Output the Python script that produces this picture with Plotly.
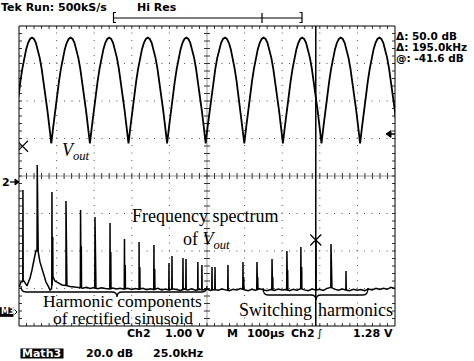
import numpy as np
import plotly.graph_objects as go

# ---------------- data ----------------
# Ch2: Vout, 1.00 V/div, 100 us/div -> cusp times (us) of the rectified sinusoid
trough_times_us = [-16.8, 85.9, 188.6, 291.2, 393.9, 496.5, 599.2, 701.9, 804.5, 907.2, 1009.9]
trough_v = 1.03
peak_v = 3.85
arch_profile = [0.0, 0.156, 0.309, 0.454, 0.588, 0.707, 0.809, 0.891, 0.951, 0.988, 1.0,
                0.988, 0.951, 0.891, 0.809, 0.707, 0.588, 0.454, 0.309, 0.156, 0.0]
trigger_v = 1.28

# Math3: FFT of Vout, 20 dB/div, 25 kHz/div
floor_khz = [-2.3, -1.0, 1.0, 2.0, 3.0, 3.7, 5.0, 6.3, 7.6, 8.3, 9.0, 10.3, 11.6, 13.0, 14.3,
             15.6, 17.0, 18.3, 19.3, 20.3, 21.6, 23.6, 26.3, 28.9, 31.6, 34.9,
             37.5, 40.0, 42.5, 45.0, 47.5, 50.0, 52.5, 55.0, 57.5, 60.0, 62.5, 65.0, 67.5, 70.0,
             72.5, 75.0, 77.5, 80.0, 82.5, 85.0, 87.5, 90.0, 92.5, 95.0, 97.5, 100.0, 102.5,
             105.0, 107.5, 110.0, 112.5, 115.0, 117.5, 120.0, 122.5, 125.0, 127.5, 130.0, 132.5,
             135.0, 137.5, 140.0, 142.5, 145.0, 147.5, 150.0, 152.5, 155.0, 157.5, 160.0, 162.5,
             165.0, 167.5, 170.0, 172.5, 175.0, 177.5, 180.0, 182.5, 185.0, 187.5, 190.0, 192.5,
             195.0, 197.5, 200.0, 202.5, 205.0, 207.5, 210.0, 212.5, 215.0, 217.5, 220.0, 222.5,
             225.0, 227.5, 230.0, 232.5, 235.0, 237.5, 240.0, 242.5, 245.0, 247.5]
floor_db = [-66.7, -64.0, -63.5, -65.0, -66.1, -64.5, -61.9, -57.6, -53.3, -49.6, -46.9, -48.0,
            -53.3, -57.6, -61.3, -64.0, -66.1, -68.3, -67.7, -61.3, -63.5, -64.5, -65.6, -65.9,
            -66.4, -66.7,
            -66.9, -67.3, -66.8, -67.4, -67.0, -67.6, -67.1, -67.5, -67.9, -67.2, -67.7, -67.3,
            -67.8, -67.4, -68.0, -67.5, -67.9, -67.3, -68.1, -67.6, -68.0, -67.4, -68.2, -67.7,
            -68.3, -67.6, -68.0, -68.5, -67.8, -68.2, -67.6, -68.4, -67.9, -68.3, -67.7, -68.5,
            -68.0, -68.4, -67.8, -68.2, -68.6, -67.9, -68.3, -67.5, -68.1, -68.6, -67.9, -68.4,
            -67.6, -68.2, -68.7, -68.0, -68.5, -67.8, -68.3, -68.0, -68.6, -67.9, -68.4, -67.6,
            -68.2, -68.6, -67.8, -68.3, -67.9, -68.5, -67.4, -66.9, -67.8, -68.4, -67.7, -68.3,
            -68.7, -67.9, -68.4, -68.0, -68.6, -67.8, -68.2, -67.4, -68.0, -67.3, -67.9, -66.8,
            -67.4]
line_khz = [0.3, 9.8, 19.6, 28.9, 38.6, 48.2, 58.2, 67.8, 77.5, 87.4, 97.4, 99.4, 106.7, 108.7,
            116.6, 119.3, 126.0, 128.0, 136.6, 146.6, 155.9, 165.9, 175.8, 185.1, 195.1, 205.1, 215.1]
line_db = [-15.0, -1.6, -16.0, -20.8, -25.6, -29.3, -32.5, -41.1, -42.7, -44.3, -53.9, -50.1,
           -51.2, -51.7, -53.3, -54.9, -56.0, -56.0, -54.9, -53.3, -53.3, -51.7, -47.5, -45.3,
           -41.6, -43.7, -58.1]
side_khz = [10.3, 20.1, 29.4, 39.1, 48.7, 58.7, 68.3, 78.0, 87.9, 147.1, 156.4, 166.4, 176.3, 185.6, 205.6]
side_db = [-25.0, -40.0, -44.0, -45.0, -49.0, -48.0, -55.0, -56.0, -57.0, -61.3, -61.3, -61.3,
           -57.6, -56.0, -56.0]

cursor_khz = [0.0, 195.0]
cursor_db = [8.4, -41.6]
math_ref_db = -80.0

# ---------------- traces ----------------
vt, vv = [], []
n = len(arch_profile)
for t0, t1 in zip(trough_times_us[:-1], trough_times_us[1:]):
    for k, p in enumerate(arch_profile[:-1]):
        vt.append(t0 + (t1 - t0) * k / (n - 1))
        vv.append(trough_v + (peak_v - trough_v) * p)
vt.append(trough_times_us[-1])
vv.append(trough_v)

pts = list(zip(floor_khz, floor_db))
for f, d in zip(line_khz + side_khz, line_db + side_db):
    b = float(np.interp(f, floor_khz, floor_db))
    pts += [(f - 0.15, b), (f, d), (f + 0.15, b)]
pts.sort()
sf = [p[0] for p in pts]
sd = [p[1] for p in pts]

fig = go.Figure()
fig.add_trace(go.Scatter(x=vt, y=vv, mode='lines', line=dict(color='black', width=1.8),
                         xaxis='x', yaxis='y', hoverinfo='skip'))
fig.add_trace(go.Scatter(x=sf, y=sd, mode='lines', line=dict(color='black', width=1.5),
                         xaxis='x2', yaxis='y2', hoverinfo='skip'))
fig.add_trace(go.Scatter(x=cursor_khz, y=cursor_db, mode='markers', xaxis='x2', yaxis='y2',
                         marker=dict(symbol='x-thin-open', size=11, color='black',
                                     line=dict(color='black', width=1.2)),
                         hoverinfo='skip'))

# ---------------- graticule & decorations ----------------
L, R, T, B = 19, 395, 26, 326
W, H = R - L, B - T


def px(x):
    return (x - L) / W


def py(y):
    return (B - y) / H


shapes = []
dot = dict(color='#555', width=1, dash='1px,6.5px')
for i in range(1, 10):
    if i == 5:
        continue
    shapes.append(dict(type='line', xref='paper', yref='paper', x0=i / 10, x1=i / 10, y0=0, y1=1, line=dot, layer='below'))
for j in range(1, 8):
    if j == 4:
        continue
    shapes.append(dict(type='line', xref='paper', yref='paper', y0=j / 8, y1=j / 8, x0=0, x1=1, line=dot, layer='below'))
shapes.append(dict(type='line', xref='paper', yref='paper', x0=0.5, x1=0.5, y0=0, y1=1,
                   line=dict(color='#999', width=1), layer='below'))
shapes.append(dict(type='line', xref='paper', yref='paper', y0=0.5, y1=0.5, x0=0, x1=1,
                   line=dict(color='#999', width=1), layer='below'))

tk = 3
segs = []
for k in range(1, 40):
    y = k / 40
    segs.append(f"M{0.5 - tk / W:.5f},{y:.5f} L{0.5 + tk / W:.5f},{y:.5f}")
    segs.append(f"M0,{y:.5f} L{tk / W:.5f},{y:.5f}")
    segs.append(f"M1,{y:.5f} L{1 - tk / W:.5f},{y:.5f}")
for k in range(1, 50):
    x = k / 50
    segs.append(f"M{x:.5f},{0.5 - tk / H:.5f} L{x:.5f},{0.5 + tk / H:.5f}")
    segs.append(f"M{x:.5f},0 L{x:.5f},{tk / H:.5f}")
    segs.append(f"M{x:.5f},1 L{x:.5f},{1 - tk / H:.5f}")
shapes.append(dict(type='path', xref='paper', yref='paper', path=' '.join(segs),
                   line=dict(color='#333', width=1), layer='below'))
shapes.append(dict(type='rect', xref='paper', yref='paper', x0=0, x1=1, y0=0, y1=1,
                   line=dict(color='black', width=1)))

# cursor bar
shapes.append(dict(type='line', xref='x2', yref='paper', x0=cursor_khz[1], x1=cursor_khz[1], y0=0, y1=1,
                   line=dict(color='black', width=1.5)))


def P(x, y):
    return f"{px(x):.5f},{py(y):.5f}"


# top record bracket
shapes.append(dict(type='path', xref='paper', yref='paper',
                   path=f"M{P(116,12.5)} L{P(113.5,12.5)} L{P(113.5,22.5)} L{P(116,22.5)} "
                        f"M{P(113.5,18)} L{P(302,18)} "
                        f"M{P(299.5,12.5)} L{P(302,12.5)} L{P(302,22.5)} L{P(299.5,22.5)} "
                        f"M{P(262,13)} L{P(262,23)}",
                   line=dict(color='black', width=1.2)))

# braces
shapes.append(dict(type='path', xref='paper', yref='paper',
                   path=f"M{P(21,286)} Q{P(21,292)} {P(26,292)} L{P(112,292)} Q{P(117,292)} {P(117,297)} "
                        f"Q{P(117,292)} {P(122,292)} L{P(202,292)} Q{P(207,292)} {P(207,286)}",
                   line=dict(color='black', width=1.3)))
shapes.append(dict(type='path', xref='paper', yref='paper',
                   path=f"M{P(263,288)} Q{P(263,295)} {P(268,295)} L{P(311,295)} Q{P(316,295)} {P(316,300)} "
                        f"Q{P(316,295)} {P(321,295)} L{P(363,295)} Q{P(368,295)} {P(368,288)}",
                   line=dict(color='black', width=1.3)))

# trigger level arrow (right edge)
shapes.append(dict(type='path', xref='paper', yref='y',
                   path=f"M{px(386):.5f},{trigger_v} L{px(391):.5f},{trigger_v + 0.09} L{px(391):.5f},{trigger_v - 0.09} Z",
                   fillcolor='black', line=dict(color='black', width=1)))
shapes.append(dict(type='line', xref='paper', yref='y', x0=px(390), x1=px(395), y0=trigger_v, y1=trigger_v,
                   line=dict(color='black', width=1.5)))

# Ch2 ground arrow (left)
shapes.append(dict(type='line', xref='paper', yref='y', x0=px(10), x1=px(16), y0=0, y1=0,
                   line=dict(color='black', width=1.3)))
shapes.append(dict(type='path', xref='paper', yref='y',
                   path=f"M{px(19):.5f},0 L{px(15):.5f},0.08 L{px(15):.5f},-0.08 Z",
                   fillcolor='black', line=dict(color='black', width=1)))

# M3 marker
shapes.append(dict(type='rect', xref='paper', yref='y2', x0=px(0), x1=px(13.5),
                   y0=math_ref_db - 2.6, y1=math_ref_db + 2.6, fillcolor='black', line=dict(width=0)))
shapes.append(dict(type='path', xref='paper', yref='y2',
                   path=f"M{px(14.5):.5f},{math_ref_db + 1.3} L{px(17):.5f},{math_ref_db} L{px(14.5):.5f},{math_ref_db - 1.3}",
                   line=dict(color='black', width=1)))
# Math3 box
shapes.append(dict(type='rect', xref='paper', yref='paper', x0=px(20.5), x1=px(63.5), y0=py(358.5), y1=py(348.5),
                   fillcolor='black', line=dict(width=0)))

SANS = 'DejaVu Sans'
SERIF = 'Liberation Serif'


def ann(text, x, y, size=11, family=SANS, weight='bold', color='black', xref='paper', yref='paper', yv=None, xanchor='left'):
    return dict(text=text, x=px(x), y=py(y) if yv is None else yv, xref=xref, yref=yref,
                xanchor=xanchor, yanchor='middle', showarrow=False, borderpad=0,
                font=dict(size=size, family=family, color=color, weight=weight))


anns = [
    ann('Tek Run: 500kS/s', 0, 7),
    ann('Hi Res', 136, 7),
    ann('Δ: 50.0 dB', 395, 36, size=10.5),
    ann('Δ: 195.0kHz', 395, 47, size=10.5),
    ann('@: -41.6 dB', 395, 58, size=10.5),
    ann('2', 1, 0, yref='y', yv=0),
    ann('M3', 0, 0, size=8, color='white', yref='y2', yv=math_ref_db),
    ann('Ch2', 126, 333.5),
    ann('1.00 V', 164, 333.5),
    ann('M', 226, 333.5),
    ann('100µs', 246, 333.5),
    ann('Ch2', 290, 333.5),
    ann('∫', 316, 333.5, weight='normal'),
    ann('1.28 V', 352, 333.5),
    ann('Math3', 21, 353.5, color='white'),
    ann('20.0 dB', 85, 353.5),
    ann('25.0kHz', 152, 353.5),
    ann('<i>V</i><sub><i>out</i></sub>', 61, 151, size=18, family=SERIF, weight='normal'),
    ann('Frequency spectrum', 131, 216, size=18, family=SERIF, weight='normal'),
    ann('of <i>V</i><sub><i>out</i></sub>', 182, 240, size=18, family=SERIF, weight='normal'),
    ann('Harmonic components', 42, 301, size=17.5, family=SERIF, weight='normal'),
    ann('of rectified sinusoid', 52, 317.5, size=17.5, family=SERIF, weight='normal'),
    ann('Switching', 238, 310, size=18, family=SERIF, weight='normal'),
    ann('harmonics', 317, 310, size=18, family=SERIF, weight='normal'),
]

fig.update_layout(
    width=474, height=361,
    margin=dict(l=L, r=474 - R, t=T, b=361 - B),
    paper_bgcolor='white', plot_bgcolor='white', showlegend=False,
    xaxis=dict(range=[0, 1000], visible=False, fixedrange=True),
    xaxis2=dict(range=[-2.33, 247.67], overlaying='x', visible=False, fixedrange=True),
    yaxis=dict(range=[-3.84, 4.16], visible=False, fixedrange=True),
    yaxis2=dict(range=[-87.47, 72.53], overlaying='y', visible=False, fixedrange=True),
    shapes=shapes, annotations=anns,
)

fig.write_html('out.html', config={'displayModeBar': False})
